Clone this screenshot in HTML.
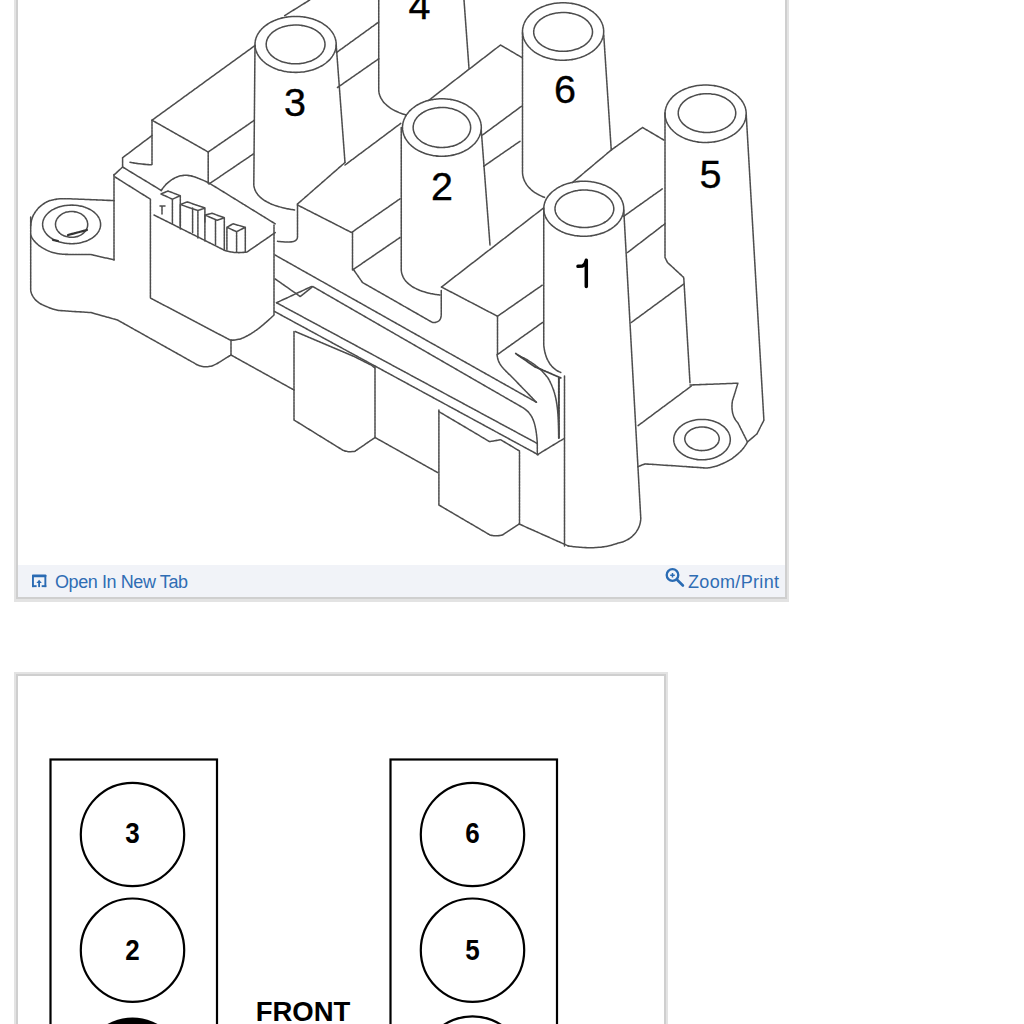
<!DOCTYPE html>
<html><head><meta charset="utf-8">
<style>
html,body{margin:0;padding:0;background:#fff;width:1024px;height:1024px;overflow:hidden;position:relative;font-family:"Liberation Sans",sans-serif;}
.box{position:absolute;box-sizing:border-box;border:2px solid #cfcfcf;background:#fff;box-shadow:0 0 0 2px #e3e3e3;}
#b1{left:16px;top:-20px;width:771px;height:619px;box-shadow:0 1px 0 2px #e3e3e3;}
#foot{position:absolute;left:18px;top:565px;width:767px;height:32px;background:#f1f3f8;}
#b2{left:16px;top:674px;width:650px;height:400px;}
svg{position:absolute;left:0;top:0;}
</style></head><body>
<div class="box" id="b1"></div>
<div id="foot"></div>
<div class="box" id="b2"></div>

<svg width="1024" height="1024" viewBox="0 0 1024 1024">
  <!-- footer icons -->
  <g fill="#2a6bb3">
    <rect x="32" y="574.4" width="14.3" height="2.9" rx="0.8"/>
    <rect x="32" y="575" width="1.9" height="12.1"/>
    <rect x="44.4" y="575" width="1.9" height="12.1"/>
    <rect x="32" y="585.2" width="4.6" height="1.9"/>
    <rect x="41.7" y="585.2" width="4.6" height="1.9"/>
    <rect x="38.2" y="581.5" width="1.8" height="5.6"/>
    <polygon points="36.4,583 39.1,579.7 41.8,583"/>
  </g>
  <g fill="none" stroke="#2a6bb3">
    <circle cx="672.5" cy="575" r="5.8" stroke-width="2.3"/>
    <path d="M670.2,575.2 H674.8 M672.5,572.9 V577.5" stroke-width="1.5"/>
    <path d="M677.3,580 L682.9,585.5" stroke-width="2.6" stroke-linecap="round"/>
  </g>
  <g font-family="Liberation Sans" font-size="18" fill="#2f6db4">
    <text x="55" y="588" textLength="133" lengthAdjust="spacing">Open In New Tab</text>
    <text x="688" y="588" textLength="91" lengthAdjust="spacing">Zoom/Print</text>
  </g>

  <!-- second diagram -->
  <g fill="none" stroke="#000" stroke-width="2.2">
    <rect x="50.5" y="759.5" width="166.5" height="300"/>
    <rect x="390.5" y="759.5" width="166.5" height="300"/>
    <circle cx="132.5" cy="834.5" r="51.7"/>
    <circle cx="132.5" cy="950.2" r="51.7"/>
    <circle cx="472.5" cy="834.5" r="51.7"/>
    <circle cx="472.5" cy="950.2" r="51.7"/>
    <circle cx="472.5" cy="1068" r="51.7"/>
  </g>
  <circle cx="132.5" cy="1069" r="51.5" fill="#000"/>
  <g font-family="Liberation Sans" font-weight="bold" font-size="26" text-anchor="middle" fill="#000">
    <text transform="translate(132.5,842.8) scale(1,1.1)">3</text>
    <text transform="translate(132.5,960) scale(1,1.1)">2</text>
    <text transform="translate(472.5,842.8) scale(1,1.1)">6</text>
    <text transform="translate(472.5,960) scale(1,1.1)">5</text>
    <text x="303" y="1021" font-size="27.5">FRONT</text>
  </g>

  <!-- DRAWING -->
  <g id="draw" fill="none" stroke="#4d4d4d" stroke-width="1.55" stroke-dasharray="2.4 0.8" stroke-linejoin="round" stroke-linecap="round">
<!-- left tab -->
<path d="M30.7,226 C31,214 40,204 50,200.6 C56,198.8 62,198.4 70,198.8 L114,200.6"/>
<path d="M30.7,235 C33,242 42,249 52,252.3 C58,254 63,254.4 68,254.4 L90,254.4 L114,259.8"/>
<path d="M30.7,217 V290.5 C32,298 38,303 44,305.5 C50,308 54,309.8 59,310.5 L91,312.6 L117.5,320 L195,363.5 C202,368 210,368 218,363 L231,355"/>
<path d="M114,174.5 V260"/>
<ellipse cx="71.6" cy="224.4" rx="29" ry="19.3"/>
<ellipse cx="71.6" cy="224.4" rx="16.1" ry="12.9"/>
<path d="M68,235 L87,230" stroke-width="2.2" stroke="#333"/>
<path d="M53,240 L58,241" stroke-width="2.2" stroke="#333"/>
<!-- base left step -->
<path d="M114,175 L122.6,167 V157.7 L152,135.5"/>
<path d="M130,162.3 C138,163.8 146,164.6 152,164.8 V120.2"/>
<path d="M122.6,167 L161.3,190.5"/>
<path d="M115,177 L150.4,199.2 V298 L230,340 C240,341 252,336 274,315 V225"/>
<path d="M231,340 V355 L294,390"/>
<!-- big block -->
<path d="M152,120.2 L255,45.5"/>
<path d="M284.7,15.6 L309.7,0"/>
<path d="M152,120.2 L208.2,152 V183.5"/>
<path d="M208.2,152 L254,120.5"/>
<path d="M209,184 L254,153.5"/>
<!-- connector -->
<path d="M161.3,190.5 C164,186 168,182 173,179 C177,176.5 181,175.3 186,175.3 C192,175.3 198,178 208.2,182.5 L275.2,223.8"/>
<path d="M154,215 L224.3,250.2 C232,253 240,253 247,252 L275.2,232.6"/>
<path d="M161,194 L168,191 L180.3,195.7 L172.4,199.2 Z M172.4,199.2 V224 M180.3,195.7 V226 M162,206 V214 M160,206 H165"/>
<path d="M180.3,204.5 L187.3,201.9 L204.9,208 L197.9,210.6 Z M180.3,204.5 V229 M192.6,208 V232.6 M197.9,210.6 V238 M204.9,208 V222"/>
<path d="M204.9,215 L212,213.3 L224.3,217.7 L217.2,220.3 Z M204.9,215 V241 M215.5,220 V245 M224.3,217.7 V250"/>
<path d="M226.9,227.3 L233,223.8 L245.3,227.3 L236.6,231.7 Z M226.9,227.3 V250 M236.6,231.7 V252 M245.3,227.3 V252"/>
<!-- cylinder 3 -->
<ellipse cx="295.6" cy="44.4" rx="40.6" ry="28"/>
<ellipse cx="295.6" cy="44.4" rx="29.4" ry="19.4"/>
<path d="M255,45 L253.8,185 C255,196 266,206 295,210"/>
<path d="M336.2,45 L345,162.5"/>
<path d="M297.5,204 V237 C297,242 292,243 277.5,241.3"/>
<path d="M297.5,204 L345,162.5"/>
<path d="M297.5,205 L351.5,232.5 L400,198.8"/>
<path d="M352.5,232.5 V270 L400,237.5"/>
<path d="M353.8,270 L362.5,282.5 L432.5,322.5 C437,323 441,321 441.25,315 V290"/>
<path d="M336.5,52.5 L378.75,22"/>
<path d="M337.5,87.5 L378.75,58.75"/>
<path d="M345,165 L401.25,123"/>
<!-- cylinder 4 -->
<path d="M378.75,0 V90 C379,100 388,110 406.25,115"/>
<path d="M464,0 L469,68.4"/>
<path d="M428.5,100.5 L500.5,45 L522,57.6"/>
<!-- cylinder 2 -->
<ellipse cx="441.9" cy="127.5" rx="39.4" ry="28.75"/>
<ellipse cx="441.9" cy="127.5" rx="28.75" ry="20"/>
<path d="M401.25,127.5 V270 C402,282 414,292 440,295"/>
<path d="M481.25,130 L490,245"/>
<path d="M441.5,287 L543.5,208"/>
<path d="M441.5,287 L497.5,316.25 L542.5,285"/>
<path d="M497.5,316.25 V354.5 L542.5,322.5"/>
<path d="M482.5,135 L521.5,106.25"/>
<path d="M483.75,166.25 L520,141.25"/>
<!-- cylinder 6 -->
<ellipse cx="563.1" cy="31.5" rx="40.6" ry="28.75"/>
<ellipse cx="563.1" cy="31.9" rx="29.4" ry="19.4"/>
<path d="M522.5,32.5 V172.5 C523,184 532,193 545,197.5"/>
<path d="M603.75,35 L611.25,150 L642.5,127.5 L663.75,140"/>
<path d="M572.5,182.5 L611.25,150"/>
<!-- cylinder 5 -->
<ellipse cx="705.6" cy="113.75" rx="40.6" ry="28.75"/>
<ellipse cx="707" cy="113.1" rx="28.75" ry="19.4"/>
<path d="M665,113 V257.5 L667.5,262.5 L683.75,277.5 L690,383"/>
<path d="M746.25,115 L763.9,420.2 L757,433.8 L747.5,442"/>
<path d="M623.75,216.25 L662.5,188.75"/>
<path d="M627.5,252.5 L665,223.75"/>
<path d="M631.25,322.5 L683.75,284"/>
<!-- cylinder 1 -->
<ellipse cx="583.75" cy="208.75" rx="40" ry="27.5"/>
<ellipse cx="584.4" cy="208.75" rx="29.4" ry="18.75"/>
<path d="M543.75,208 V345 C545,358 550,368 560.75,372.5"/>
<path d="M623.75,210 L640.8,518.6 C640,532 630,541 617.6,543.2 C605,548 590,549 568.4,546"/>
<path d="M564.5,376 V546"/>
<path d="M558.9,378 V438" stroke-width="2" stroke="#444"/>
<!-- sweep near cyl 1 -->
<path d="M497,354.5 C498,362 500,366 510,375 L536.4,402.25"/>
<path d="M517.5,355 C528,360 538,365 548,378 C556,392 558.5,405 558.75,437.5"/>
<path d="M515.75,353.5 L534.5,366.6 L560.75,377.9" stroke-width="1.8" stroke="#444"/>
<!-- rails -->
<path d="M275,255 L536.4,402.25"/>
<path d="M275.25,279 L300.25,296.5 L312.75,286.5 L523.25,407.9 C531,413 536,420 537.3,443.5 V454.75 L563.6,438.8"/>
<path d="M276.5,302.75 L311.5,286.5"/>
<path d="M276.5,302.75 L537.3,443.5"/>
<path d="M274.6,311.5 L538.25,454.75"/>
<!-- lower box 1 -->
<path d="M295.25,331.5 L354,356.5 L371.5,365.25 L374.6,367.75"/>
<path d="M294,331.5 V420 L342.5,450 C347,452 351,452 355,451.25 L375,437.5 V366"/>
<path d="M375,437.5 L437.5,472.5"/>
<!-- lower box 2 -->
<path d="M438.9,411.6 L489.5,441.6 L500.75,439.75 L519.5,451 V524"/>
<path d="M438.9,410 V505 L490,535 C494,536 498,536 502.5,535 L519.1,524 L568.4,546"/>
<!-- right mount -->
<path d="M638.1,425.6 L691.4,386"/>
<path d="M690,385 L737.9,383.2 L732.4,401 C731,410 733,418 737.9,422.9 L747.5,442"/>
<path d="M747.5,442 C742,452 735,456 732.4,458.4 C722,465 712,468 705.1,468 L686,466.6 L645,463.9 L638.1,466.6"/>
<ellipse cx="702" cy="439.6" rx="28.3" ry="20.2"/>
<ellipse cx="702" cy="438.8" rx="17.2" ry="11.8"/>
</g>
  <g font-family="Liberation Sans" font-size="39.5" text-anchor="middle" fill="#000" stroke="#000" stroke-width="0.35">
    <text x="295" y="116.2">3</text>
    <text x="419.5" y="18.8">4</text>
    <text x="442" y="199.8">2</text>
    <text x="565" y="102.8">6</text>
    <text x="710.5" y="188">5</text>
  </g>
  <path d="M578,266.3 L582.5,266 C584.5,265 585.8,263 586.3,260.3 V286.4" fill="none" stroke="#000" stroke-width="3.5" stroke-linecap="round" stroke-linejoin="round"/>
</svg>
</body></html>
